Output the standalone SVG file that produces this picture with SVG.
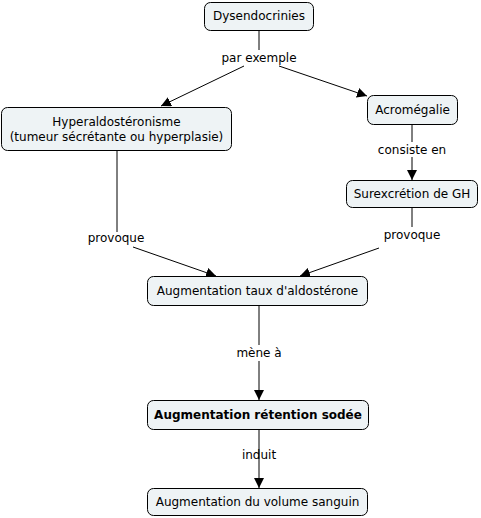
<svg xmlns="http://www.w3.org/2000/svg" width="481" height="518" viewBox="0 0 481 518">
<style>
.n{fill:#eef3f5;stroke:#000;stroke-width:1}
.t{font-family:"DejaVu Sans",Verdana,sans-serif;font-size:12px;fill:#000;text-anchor:middle}
.b{font-weight:bold}
.c{stroke:#000;stroke-width:1;fill:none}
.lb{fill:#fff}
</style>
<defs>
<marker id="a" viewBox="0 0 10 10" refX="10" refY="5" markerWidth="10" markerHeight="10" markerUnits="userSpaceOnUse" orient="auto">
<path d="M0,0L10,5L0,10z" fill="#000"/>
</marker>
</defs>
<g id="connectors">
<path class="c" d="M259,30V50"/>
<path class="c" d="M244,66L161,106" marker-end="url(#a)"/>
<path class="c" d="M279,66L367,96" marker-end="url(#a)"/>
<path class="c" d="M412,125V142"/>
<path class="c" d="M412,157V180" marker-end="url(#a)"/>
<path class="c" d="M117,151V232"/>
<path class="c" d="M133,247L216,276" marker-end="url(#a)"/>
<path class="c" d="M412,207V227"/>
<path class="c" d="M379,248L300,276" marker-end="url(#a)"/>
<path class="c" d="M259,306V345"/>
<path class="c" d="M259,361V400" marker-end="url(#a)"/>
<path class="c" d="M259,430V488" marker-end="url(#a)"/>
</g>
<g id="lbl-par"><rect class="lb" x="216" y="50" width="86" height="15"/><text class="t" x="259" y="62">par exemple</text></g>
<g id="lbl-consiste"><rect class="lb" x="374" y="142" width="76" height="15"/><text class="t" x="412" y="154">consiste en</text></g>
<g id="lbl-prov1"><text class="t" x="116" y="242">provoque</text></g>
<g id="lbl-prov2"><rect class="lb" x="380" y="227" width="64" height="15"/><text class="t" x="412" y="239">provoque</text></g>
<g id="lbl-mene"><rect class="lb" x="233" y="345" width="52" height="16"/><text class="t" x="259" y="357">mène à</text></g>
<g id="lbl-induit"><text class="t" x="259" y="459">induit</text></g>
<g id="n1"><rect class="n" x="204.5" y="2.5" width="109" height="28" rx="6"/><text class="t" x="259" y="20">Dysendocrinies</text></g>
<g id="n2"><rect class="n" x="1.5" y="107.5" width="230" height="43" rx="6"/><text class="t" x="116.5" y="126">Hyperaldostéronisme</text><text class="t" x="116.5" y="141">(tumeur sécrétante ou hyperplasie)</text></g>
<g id="n3"><rect class="n" x="367.5" y="95.5" width="90" height="29" rx="6"/><text class="t" x="412.5" y="114">Acromégalie</text></g>
<g id="n4"><rect class="n" x="346.5" y="180.5" width="131" height="27" rx="6"/><text class="t" x="412" y="198">Surexcrétion de GH</text></g>
<g id="n5"><rect class="n" x="147.5" y="276.5" width="220" height="29" rx="6"/><text class="t" x="257.5" y="295">Augmentation taux d'aldostérone</text></g>
<g id="n6"><rect class="n" x="147.5" y="400.5" width="221" height="29" rx="6"/><text class="t b" x="258" y="419">Augmentation rétention sodée</text></g>
<g id="n7"><rect class="n" x="147.5" y="488.5" width="220" height="27" rx="6"/><text class="t" x="257.5" y="506">Augmentation du volume sanguin</text></g>
</svg>
